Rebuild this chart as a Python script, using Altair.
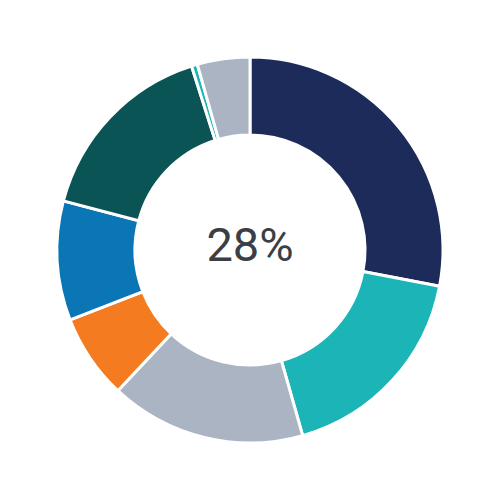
import altair as alt
import pandas as pd

categories = ["A", "B", "C", "D", "E", "F", "G", "H"]
values = [28.0, 17.6, 16.4, 7.1, 10.0, 16.0, 0.5, 4.4]
colors = ["#1c2b5a", "#1bb5b8", "#aab4c2", "#f47b20", "#0a76b6", "#0b5456", "#1bb5b8", "#aab4c2"]
center_label = ["28%"]

df = pd.DataFrame({"cat": categories, "value": values, "order": list(range(len(values)))})

arcs = alt.Chart(df).mark_arc(innerRadius=115, outerRadius=193, stroke="white", strokeWidth=3).encode(
    theta=alt.Theta("value:Q", stack=True),
    order=alt.Order("order:Q"),
    color=alt.Color("cat:N", scale=alt.Scale(domain=categories, range=colors), legend=None),
)

text = alt.Chart(pd.DataFrame({"t": center_label})).mark_text(
    font="Roboto", fontSize=47, color="#3b3f45", baseline="middle", align="center", dy=-3
).encode(text="t:N")

chart = alt.layer(arcs, text).properties(
    width=484, height=484, autosize=alt.AutoSizeParams(type="fit", contains="padding"), padding=0
).configure_view(stroke=None)

chart.save("out.html", embed_options={"renderer": "svg", "actions": False})
